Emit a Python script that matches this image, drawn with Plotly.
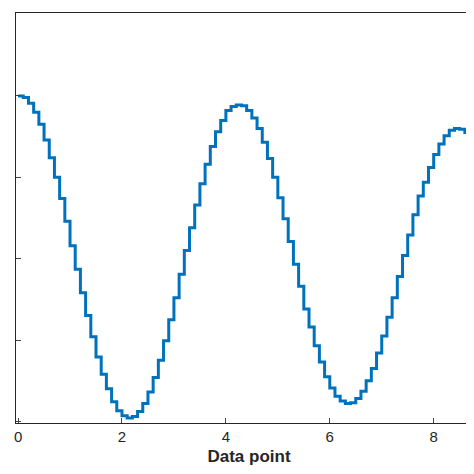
import plotly.graph_objects as go

x_vals = [round(i * 0.1, 1) for i in range(91)]
y_vals = [1.00, 0.99, 0.955, 0.90, 0.826, 0.73, 0.62, 0.50, 0.37, 0.23,
          0.08, -0.065, -0.21, -0.35, -0.48, -0.605, -0.71, -0.80, -0.88, -0.935,
          -0.965, -0.98, -0.97, -0.94, -0.89, -0.82, -0.73, -0.625, -0.505, -0.375,
          -0.24, -0.095, 0.05, 0.19, 0.33, 0.46, 0.58, 0.69, 0.78, 0.85,
          0.91, 0.935, 0.945, 0.94, 0.91, 0.865, 0.80, 0.715, 0.615, 0.50,
          0.375, 0.245, 0.105, -0.035, -0.17, -0.31, -0.42, -0.535, -0.635, -0.725,
          -0.795, -0.845, -0.875, -0.89, -0.885, -0.86, -0.815, -0.75, -0.675, -0.58,
          -0.475, -0.36, -0.24, -0.11, 0.02, 0.145, 0.27, 0.385, 0.47, 0.56,
          0.64, 0.705, 0.755, 0.79, 0.80, 0.795, 0.775, 0.74, 0.685, 0.615, 0.535]
x_ticks = [0, 2, 4, 6, 8]
y_ticks = [-1.0, -0.5, 0.0, 0.5, 1.0]

fig = go.Figure(go.Scatter(x=x_vals, y=y_vals, mode="lines",
                           line=dict(shape="hv", color="#0072BD", width=3)))
fig.update_layout(width=474, height=474, margin=dict(l=8, r=0, t=5, b=59),
                  plot_bgcolor="white", paper_bgcolor="white", showlegend=False,
                  font=dict(family="Liberation Sans, Arial", color="#262626"))
fig.update_xaxes(range=[-0.04, 8.93], tickvals=x_ticks, ticks="inside", ticklen=5,
                 showgrid=False, zeroline=False, showline=True, mirror=True,
                 automargin=False,
                 linecolor="#262626", linewidth=1, tickfont=dict(size=15),
                 title=dict(text="<b>Data point</b>", font=dict(size=17), standoff=6))
fig.update_yaxes(range=[-1.01, 1.51], tickvals=y_ticks, ticktext=[""] * 5,
                 ticks="inside", ticklen=5, showgrid=False, zeroline=False,
                 automargin=False,
                 showline=True, mirror=True, linecolor="#262626", linewidth=1)
fig.write_html("out.html")
